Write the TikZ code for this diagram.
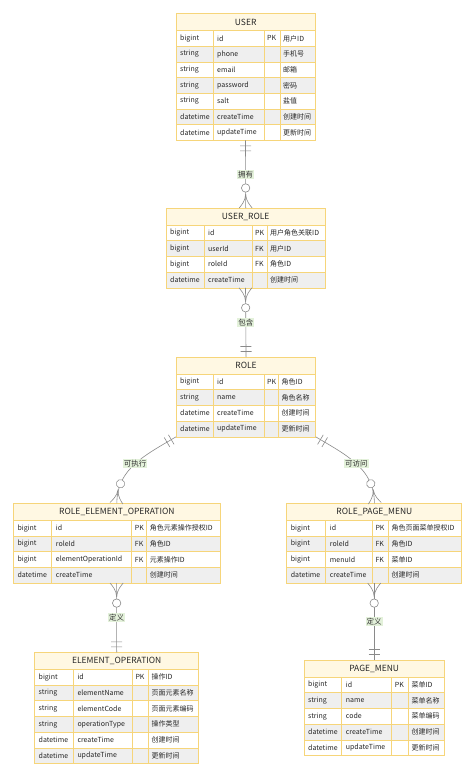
\documentclass[tikz,border=0pt]{standalone}
\usepackage{fontspec}
\setmainfont{Noto Sans CJK SC}
\usetikzlibrary{decorations.markings,calc}
\definecolor{tblborder}{HTML}{F6D57A}
\definecolor{tblhead}{HTML}{FFF8E3}
\definecolor{tblrow}{HTML}{EFEFEF}
\definecolor{lblfill}{HTML}{E3F1DA}
\definecolor{relline}{HTML}{8A8A8A}
\tikzset{
	ttl/.style={anchor=north west,minimum height=17pt,inner sep=0pt,font=\fontsize{8.5}{10}\selectfont,text=black!85},
	cell/.style={anchor=west,inner sep=0pt,font=\fontsize{7}{8}\selectfont,text=black!85},
	tblgrid/.style={draw=tblborder,line width=0.6pt},
	rel/.style={draw=relline,line width=0.6pt,postaction={decorate,decoration={markings,
		mark=at position 5.5pt with {\draw[relline,line width=0.6pt] (0,-5.5)--(0,5.5);},
		mark=at position 10.5pt with {\draw[relline,line width=0.6pt] (0,-5.5)--(0,5.5);},
		mark=at position -20pt with {\draw[relline,line width=0.6pt,fill=white] (0,0) circle (4.2pt);},
		mark=at position -7pt with {\draw[relline,line width=0.6pt] (-7,0) .. controls (0,0) and (5,-5) .. (7,-6.5) (-7,0) .. controls (0,0) and (5,5) .. (7,6.5);}}}},
	lbl/.style={fill=lblfill,inner sep=1pt,font=\fontsize{7.5}{9}\selectfont,text=black!80}
}
% name, left, top, right, col1, col2, col3, title, rows
\newcommand{\ertable}[9]{%
	\fill[tblhead] (#2,#3) rectangle (#4,#3+17);
	\node[ttl,minimum width={(#4-#2)*1pt}] (#1) at (#2,#3) {#8};
	\foreach \ty/\fd/\ky/\cm [count=\i] in {#9}{
		\pgfmathsetmacro{\ry}{#3+17+(\i-1)*15.7}
		\ifodd\i\else\fill[tblrow] (#2,\ry) rectangle (#4,\ry+15.7);\fi
		\draw[tblgrid] (#2,\ry) -- (#4,\ry);
		\node[cell] (#1-\i-t) at (#2+4,\ry+7.85) {\ty};
		\node[cell] (#1-\i-f) at (#5+4,\ry+7.85) {\fd};
		\node[cell] (#1-\i-k) at (#6+3,\ry+7.85) {\ky};
		\node[cell] (#1-\i-c) at (#7+3,\ry+7.85) {\cm};
		\pgfmathsetmacro{\rb}{\ry+15.7}\xdef\tblbot{\rb}
	}
	\foreach \cx in {#5,#6,#7} \draw[tblgrid] (\cx,#3+17) -- (\cx,\tblbot);
	\draw[tblgrid] (#2,#3) rectangle (#4,\tblbot);
	\coordinate (#1-s) at ({(#2+#4)/2},\tblbot);
	\coordinate (#1-sw) at (#2,\tblbot);
	\coordinate (#1-se) at (#4,\tblbot);
}

\begin{document}
\begin{tikzpicture}[x=1pt,y=-1pt]
	\useasboundingbox (0,0) rectangle (474,779);
	\ertable{user}{176}{13.5}{315}{213}{264}{280}{USER}{
		bigint/id/PK/用户ID, string/phone//手机号, string/email//邮箱, string/password//密码,
		string/salt//盐值, datetime/createTime//创建时间, datetime/updateTime//更新时间}
	\ertable{userrole}{166}{208}{325}{204}{252}{267}{USER\_ROLE}{
		bigint/id/PK/用户角色关联ID, bigint/userId/FK/用户ID, bigint/roleId/FK/角色ID, datetime/createTime//创建时间}
	\ertable{role}{176}{357}{315.7}{213}{264}{278.5}{ROLE}{
		bigint/id/PK/角色ID, string/name//角色名称, datetime/createTime//创建时间, datetime/updateTime//更新时间}
	\ertable{reo}{13.3}{503.3}{220}{51.7}{131.7}{146.7}{ROLE\_ELEMENT\_OPERATION}{
		bigint/id/PK/角色元素操作授权ID, bigint/roleId/FK/角色ID, bigint/elementOperationId/FK/元素操作ID, datetime/createTime//创建时间}
	\ertable{rpm}{286.7}{503.3}{461.7}{325.7}{372.3}{388.3}{ROLE\_PAGE\_MENU}{
		bigint/id/PK/角色页面菜单授权ID, bigint/roleId/FK/角色ID, bigint/menuId/FK/菜单ID, datetime/createTime//创建时间}
	\ertable{eo}{34.5}{652.3}{198.5}{73.3}{132.3}{148.3}{ELEMENT\_OPERATION}{
		bigint/id/PK/操作ID, string/elementName//页面元素名称, string/elementCode//页面元素编码,
		string/operationType//操作类型, datetime/createTime//创建时间, datetime/updateTime//更新时间}
	\ertable{pm}{304}{660}{444}{341.7}{391.7}{408.3}{PAGE\_MENU}{
		bigint/id/PK/菜单ID, string/name//菜单名称, string/code//菜单编码, datetime/createTime//创建时间, datetime/updateTime//更新时间}
	% relations: one side first, many side last
	\draw[rel] (user-s) -- node[lbl] (l-own) {拥有} (userrole.north);
	\draw[rel] (role.north) -- node[lbl] (l-have) {包含} (userrole-s);
	\draw[rel] (role-sw) .. controls +(-30,18) and +(0,-35) .. node[lbl] (l-exec) {可执行} (reo.north);
	\draw[rel] (role-se) .. controls +(30,18) and +(0,-35) .. node[lbl] (l-visit) {可访问} (rpm.north);
	\draw[rel] (eo.north) -- node[lbl] (l-def1) {定义} (reo-s);
	\draw[rel] (pm.north) -- node[lbl] (l-def2) {定义} (rpm-s);
\end{tikzpicture}
\end{document}
